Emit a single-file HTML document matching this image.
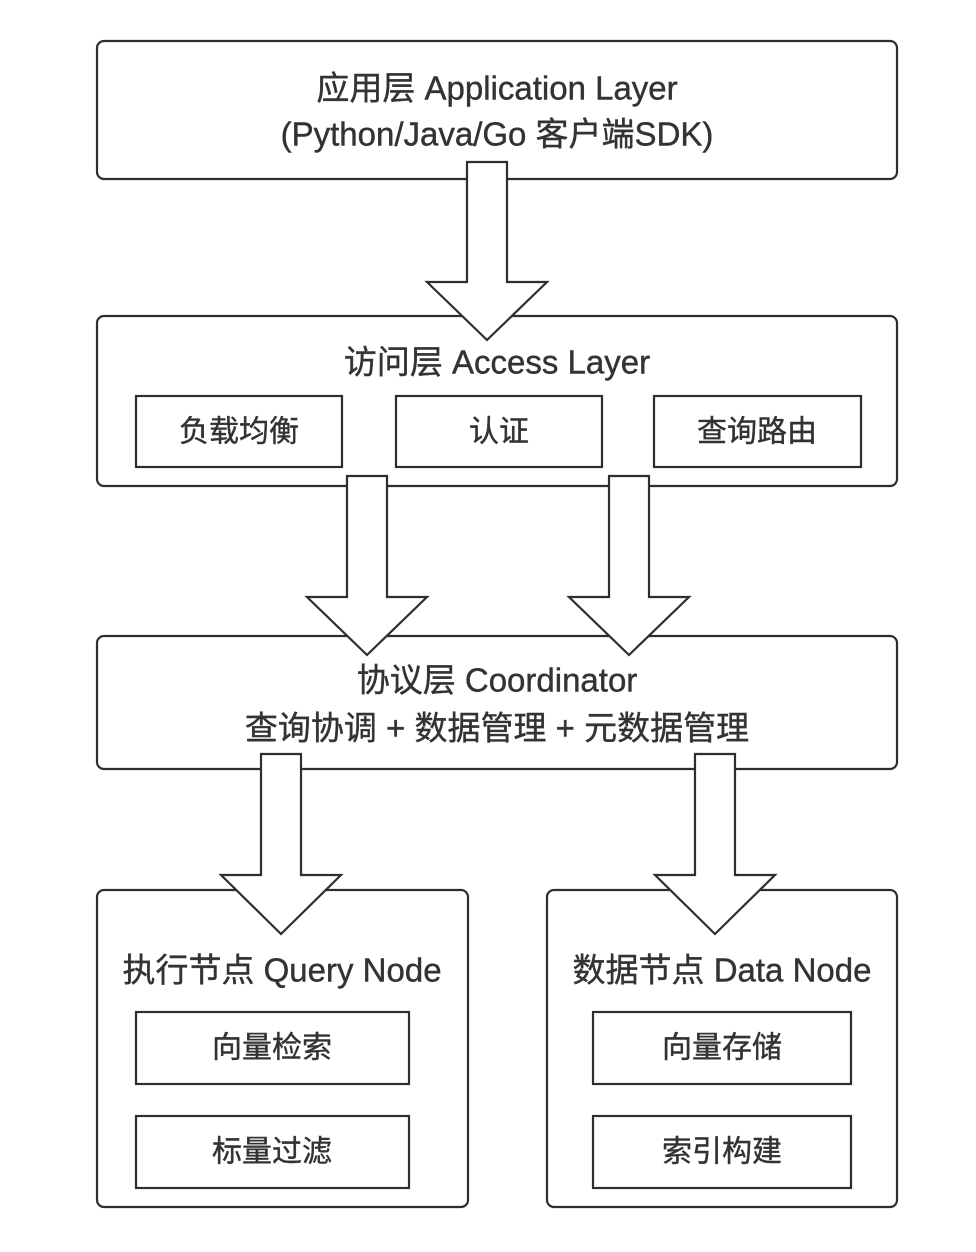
<!DOCTYPE html>
<html><head><meta charset="utf-8"><style>
html,body{margin:0;padding:0;background:#fff;}
svg{display:block;}
text{font-family:"Liberation Sans","Noto Sans CJK SC",sans-serif;fill:#333;stroke:#333;stroke-width:0.4;text-anchor:middle;dominant-baseline:central;}
</style></head><body>
<svg width="976" height="1252" viewBox="0 0 976 1252" xmlns="http://www.w3.org/2000/svg">
<g fill="#fff" stroke="#2b2f33" stroke-width="2.2">
<rect x="97" y="41" width="800" height="138" rx="7"/>
<rect x="97" y="316" width="800" height="170" rx="7"/>
<rect x="136" y="396" width="206" height="71"/>
<rect x="396" y="396" width="206" height="71"/>
<rect x="654" y="396" width="207" height="71"/>
<rect x="97" y="636" width="800" height="133" rx="7"/>
<rect x="97" y="890" width="371" height="317" rx="7"/>
<rect x="547" y="890" width="350" height="317" rx="7"/>
<rect x="136" y="1012" width="273" height="72"/>
<rect x="136" y="1116" width="273" height="72"/>
<rect x="593" y="1012" width="258" height="72"/>
<rect x="593" y="1116" width="258" height="72"/>
<path d="M467 162H507V282H547L487 340L427 282H467Z"/>
<path d="M347 476H387V597H427L367 655L307 597H347Z"/>
<path d="M609 476H649V597H689L629 655L569 597H609Z"/>
<path d="M261 754H301V875H341L281 934L221 875H261Z"/>
<path d="M695 754H735V875H775L715 934L655 875H695Z"/>
</g>
<g font-size="33">
<text x="497" y="88">应用层 Application Layer</text>
<text x="497" y="134">(Python/Java/Go 客户端SDK)</text>
<text x="497" y="362">访问层 Access Layer</text>
<text x="497" y="680">协议层 Coordinator</text>
<text x="497" y="728">查询协调 + 数据管理 + 元数据管理</text>
<text x="282" y="970">执行节点 Query Node</text>
<text x="722" y="970">数据节点 Data Node</text>
</g>
<g font-size="30">
<text x="239" y="432">负载均衡</text>
<text x="499" y="432">认证</text>
<text x="757" y="432">查询路由</text>
<text x="272" y="1048">向量检索</text>
<text x="272" y="1152">标量过滤</text>
<text x="722" y="1048">向量存储</text>
<text x="722" y="1152">索引构建</text>
</g>
</svg>
</body></html>
